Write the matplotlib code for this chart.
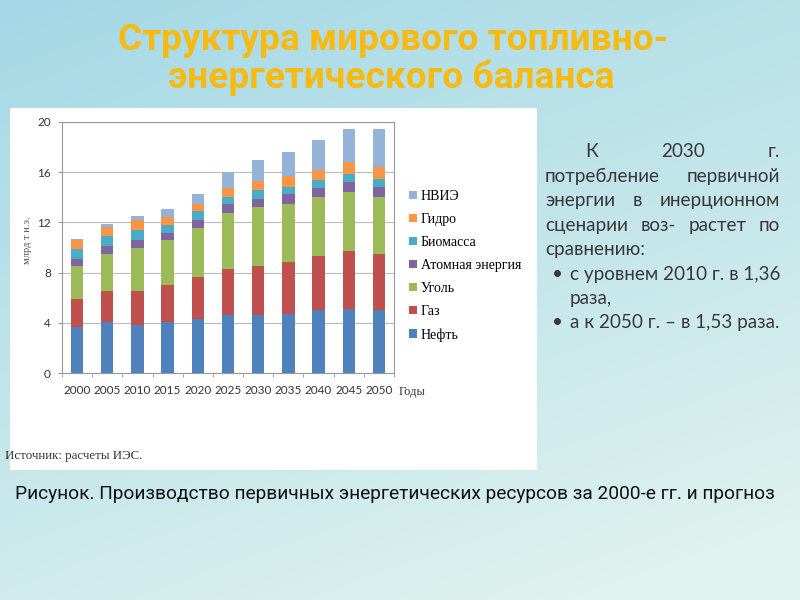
import numpy as np
import matplotlib.pyplot as plt
from matplotlib.patches import Rectangle, Patch

# данные (млрд т н.э.)
years = ['2000', '2005', '2010', '2015', '2020', '2025', '2030', '2035', '2040', '2045', '2050']
neft = [3.67, 4.07, 3.85, 4.07, 4.33, 4.65, 4.65, 4.73, 5.00, 5.13, 5.05]
gaz = [2.23, 2.43, 2.65, 2.93, 3.33, 3.67, 3.85, 4.13, 4.30, 4.63, 4.45]
ugol = [2.60, 3.00, 3.50, 3.60, 3.91, 4.45, 4.74, 4.64, 4.70, 4.68, 4.54]
atom = [0.60, 0.65, 0.60, 0.57, 0.61, 0.66, 0.66, 0.73, 0.76, 0.76, 0.76]
biomassa = [0.80, 0.80, 0.80, 0.66, 0.72, 0.61, 0.65, 0.61, 0.59, 0.68, 0.68]
gidro = [0.70, 0.70, 0.80, 0.62, 0.60, 0.72, 0.75, 0.86, 0.79, 0.96, 0.92]
nvie = [0.05, 0.20, 0.30, 0.65, 0.80, 1.24, 1.70, 1.93, 2.40, 2.63, 3.07]

series = [
    ('Нефть', neft, '#4F81BD'),
    ('Газ', gaz, '#C0504D'),
    ('Уголь', ugol, '#9BBB59'),
    ('Атомная энергия', atom, '#8064A2'),
    ('Биомасса', biomassa, '#4BACC6'),
    ('Гидро', gidro, '#F79646'),
    ('НВИЭ', nvie, '#95B3D7'),
]

W, H = 800, 600
def fx(x):
    return x / W
def fy(y):
    return 1 - y / H

fig = plt.figure(figsize=(8, 6), dpi=100)
fig.canvas.draw()
renderer = fig.canvas.get_renderer()

# подогнать размер шрифта под нужную ширину (узкого шрифта нет)
def fit_width(txt, target):
    w = txt.get_window_extent(renderer).width
    txt.set_fontsize(txt.get_fontsize() * target / w)

# фон слайда - градиент
bg = fig.add_axes([0, 0, 1, 1], zorder=-10)
gx, gy = np.meshgrid(np.linspace(0, 1, 200), np.linspace(0, 1, 150))
t = np.clip(0.75 * gy + 0.35 * gx, 0, 1)
c_top = np.array([164, 216, 230]) / 255
c_bot = np.array([222, 242, 238]) / 255
img = c_top[None, None, :] * (1 - t[..., None]) + c_bot[None, None, :] * t[..., None]
bg.imshow(img, aspect='auto', extent=[0, 1, 0, 1], origin='upper')
bg.set_axis_off()

# белая подложка рисунка
fig.patches.append(Rectangle((fx(10), fy(470)), (537 - 10) / W, (470 - 108) / H,
                             transform=fig.transFigure, facecolor='white',
                             edgecolor='none', zorder=-5))

# заголовок
title_font = ['Roboto', 'DejaVu Sans']
t1 = fig.text(fx(393), fy(40), 'Структура мирового топливно-', ha='center', va='center',
              fontsize=27, fontweight='bold', color='#F6BA12', family=title_font)
t2 = fig.text(fx(391), fy(78), 'энергетического баланса', ha='center', va='center',
              fontsize=27, fontweight='bold', color='#F6BA12', family=title_font)
fit_width(t1, 550)
t2.set_fontsize(t1.get_fontsize())

# график
ax = fig.add_axes([fx(62), fy(373), (394 - 62) / W, (373 - 122) / H])
x = np.arange(len(years))
bottom = np.zeros(len(years))
for name, vals, col in series:
    ax.bar(x, vals, width=0.41, bottom=bottom, color=col, label=name, zorder=3)
    bottom += np.array(vals)

ax.set_xlim(-0.5, len(years) - 0.5)
ax.set_ylim(0, 20)
ax.set_yticks([0, 4, 8, 12, 16, 20])
ax.set_xticks(x)
ax.set_xticklabels(years)
ax.set_xticks(np.arange(-0.5, len(years), 1), minor=True)
ax.tick_params(axis='x', which='major', length=0, pad=9, labelsize=8.5, labelcolor='#333333')
ax.tick_params(axis='x', which='minor', length=3, color='#999999')
ax.tick_params(axis='y', length=3, color='#999999', labelsize=8.5, labelcolor='#333333', pad=5)
for lab in ax.get_xticklabels() + ax.get_yticklabels():
    lab.set_family(['Lato', 'DejaVu Sans'])
ax.grid(axis='y', color='#BBBBBB', linewidth=0.8, zorder=0)
for s in ax.spines.values():
    s.set_color('#999999')
    s.set_linewidth(0.8)

serif = ['Liberation Serif', 'DejaVu Serif']
fig.text(fx(28), fy(240), 'млрд т н.э.', rotation=90, ha='center', va='center',
         fontsize=7.5, color='#555555', family=serif)
fig.text(fx(399), fy(392), 'Годы', ha='left', va='center', fontsize=9,
         color='#333333', family=serif)

handles = [Patch(facecolor=c, edgecolor='none') for _, _, c in series][::-1]
labels = [n for n, _, _ in series][::-1]
fig.legend(handles, labels, loc='upper left', bbox_to_anchor=(fx(409), fy(190)),
           frameon=False, prop={'family': serif, 'size': 10},
           handlelength=0.55, handleheight=0.55, handletextpad=0.3, labelspacing=0.72,
           borderaxespad=0, borderpad=0)

fig.text(fx(5), fy(456), 'Источник: расчеты ИЭС.', ha='left', va='center',
         fontsize=9.3, color='#333333', family=serif)

# подпись
cap = fig.text(fx(15), fy(494),
               'Рисунок. Производство первичных энергетических ресурсов за 2000-е гг. и прогноз',
               ha='left', va='center', fontsize=13.5, color='#111111', family=title_font)
fit_width(cap, 760)

# текст справа, выровненный по ширине
body_font = ['Lato', 'DejaVu Sans']
body_col = '#383838'
fs = 13.6
base = 5  # от центра строки до базовой линии, px

def line(s, x0, y):
    fig.text(fx(x0), fy(y + base), s, ha='left', va='baseline', fontsize=fs,
             color=body_col, family=body_font)

def justify(words, left, right, y):
    objs = [fig.text(0, fy(y + base), w, ha='left', va='baseline', fontsize=fs,
                     color=body_col, family=body_font) for w in words]
    widths = [o.get_window_extent(renderer).width for o in objs]
    gap = (right - left - sum(widths)) / (len(words) - 1)
    pos = left
    for o, w in zip(objs, widths):
        o.set_x(fx(pos))
        pos += w + gap

justify(['К', '2030', 'г.'], 585, 780, 152)
justify(['потребление', 'первичной'], 545, 780, 177)
justify(['энергии', 'в', 'инерционном'], 545, 780, 201)
justify(['сценарии', 'воз-', 'растет', 'по'], 545, 780, 226)
line('сравнению:', 545, 250)
line('•', 552, 275)
line('с уровнем 2010 г. в 1,36', 570, 275)
line('раза,', 570, 299)
line('•', 552, 323)
line('а к 2050 г. – в 1,53 раза.', 570, 323)

fig.savefig('out.png', dpi=100)
